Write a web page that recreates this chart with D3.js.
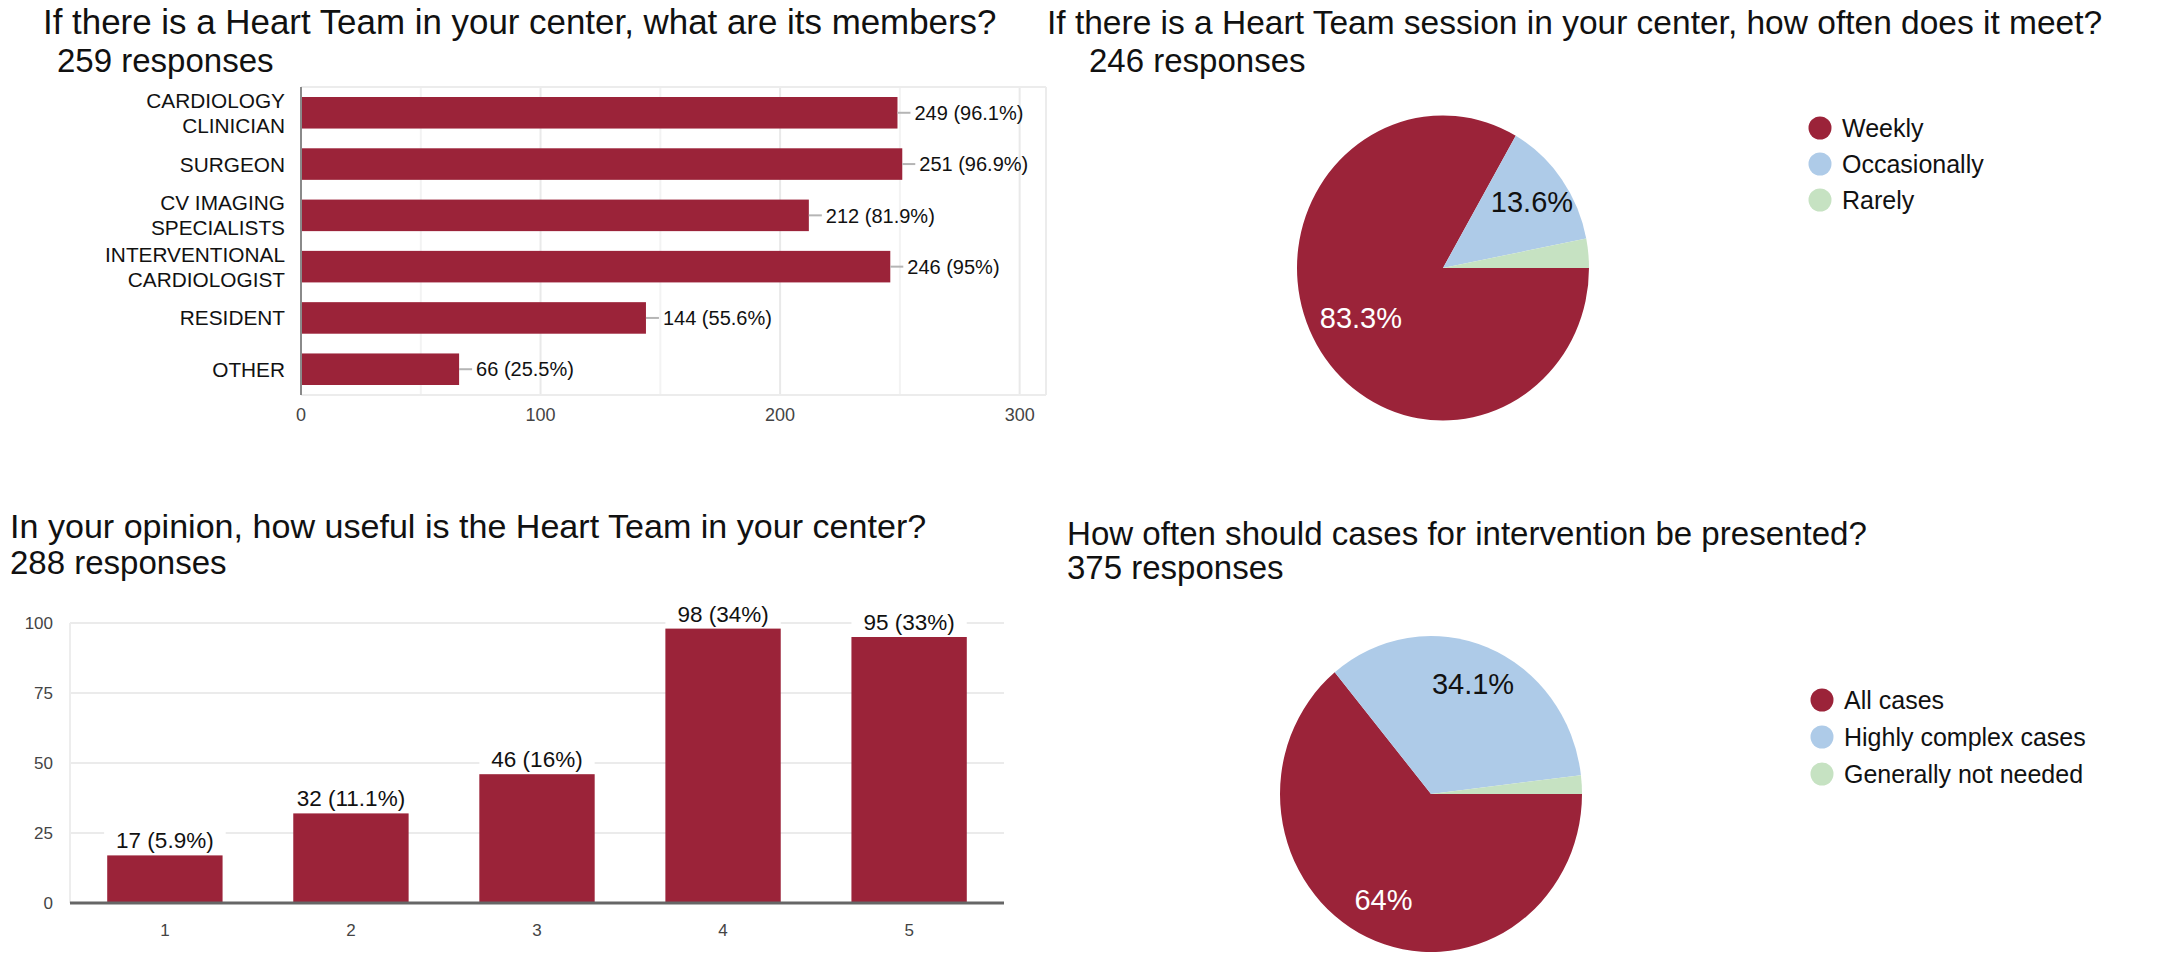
<!DOCTYPE html>
<html>
<head>
<meta charset="utf-8">
<script src="https://cdnjs.cloudflare.com/ajax/libs/d3/7.8.5/d3.min.js"></script>
<style>
  html, body { margin: 0; padding: 0; background: #fff; }
  svg { display: block; font-family: "Liberation Sans", Arial, Helvetica, sans-serif; }
</style>
</head>
<body>
<svg id="chart" width="2184" height="959"></svg>
<script>
// ---------- DATA ----------
const membersTitle = "If there is a Heart Team in your center, what are its members?";
const membersResponses = "259 responses";
const membersCategories = ["CARDIOLOGY|CLINICIAN", "SURGEON", "CV IMAGING|SPECIALISTS", "INTERVENTIONAL|CARDIOLOGIST", "RESIDENT", "OTHER"];
const membersValues = [249, 251, 212, 246, 144, 66];
const membersPercents = ["96.1%", "96.9%", "81.9%", "95%", "55.6%", "25.5%"];
const membersTicks = [0, 100, 200, 300];

const meetTitle = "If there is a Heart Team session in your center, how often does it meet?";
const meetResponses = "246 responses";
const meetLabels = ["Weekly", "Occasionally", "Rarely"];
const meetValues = [83.3, 13.6, 3.1];

const usefulTitle = "In your opinion, how useful is the Heart Team in your center?";
const usefulResponses = "288 responses";
const usefulCategories = ["1", "2", "3", "4", "5"];
const usefulValues = [17, 32, 46, 98, 95];
const usefulPercents = ["5.9%", "11.1%", "16%", "34%", "33%"];
const usefulTicks = [0, 25, 50, 75, 100];

const presentTitle = "How often should cases for intervention be presented?";
const presentResponses = "375 responses";
const presentLabels = ["All cases", "Highly complex cases", "Generally not needed"];
const presentValues = [64, 34.1, 1.9];

const sliceColors = ["#9b2339", "#aecbe8", "#c6e2c2"];
const barColor = "#9b2339";

// ---------- DRAW ----------
const svg = d3.select("#chart");

function title(x, y1, y2, t, r, fs) {
  svg.append("text").attr("x", x).attr("y", y1).attr("font-size", fs).attr("fill", "#111").text(t);
  svg.append("text").attr("x", r.x).attr("y", y2).attr("font-size", 33).attr("fill", "#111").text(r.t);
}

// Chart 1: horizontal bars
(function () {
  title(43, 34, 72, membersTitle, { x: 57, t: membersResponses }, 34.9);
  const left = 301, right = 1046, top = 87, bottom = 395;
  const x = d3.scaleLinear().domain([0, 311]).range([left, right]);
  const y = d3.scaleBand().domain(membersCategories).range([top, bottom]).paddingInner(0.385).paddingOuter(0.195);
  const g = svg.append("g");
  const minor = [50, 150, 250];
  g.selectAll(".minor").data(minor).join("line")
    .attr("x1", d => x(d)).attr("x2", d => x(d)).attr("y1", top).attr("y2", bottom)
    .attr("stroke", "#f3f3f3").attr("stroke-width", 2);
  g.selectAll(".major").data(membersTicks.slice(1)).join("line")
    .attr("x1", d => x(d)).attr("x2", d => x(d)).attr("y1", top).attr("y2", bottom)
    .attr("stroke", "#e9e9e9").attr("stroke-width", 2);
  g.append("line").attr("x1", left).attr("x2", right).attr("y1", top).attr("y2", top).attr("stroke", "#ececec").attr("stroke-width", 2);
  g.append("line").attr("x1", left).attr("x2", right).attr("y1", bottom).attr("y2", bottom).attr("stroke", "#ececec").attr("stroke-width", 2);
  g.append("line").attr("x1", right).attr("x2", right).attr("y1", top).attr("y2", bottom).attr("stroke", "#ececec").attr("stroke-width", 2);
  g.selectAll(".bar").data(membersValues).join("rect")
    .attr("x", x(0)).attr("y", (d, i) => y(membersCategories[i]))
    .attr("width", d => x(d) - x(0)).attr("height", y.bandwidth()).attr("fill", barColor);
  g.selectAll(".lead").data(membersValues).join("line")
    .attr("x1", d => x(d)).attr("x2", d => x(d) + 13)
    .attr("y1", (d, i) => y(membersCategories[i]) + y.bandwidth() / 2)
    .attr("y2", (d, i) => y(membersCategories[i]) + y.bandwidth() / 2)
    .attr("stroke", "#b5b5b5").attr("stroke-width", 2);
  g.selectAll(".vl").data(membersValues).join("text")
    .attr("x", d => x(d) + 17)
    .attr("y", (d, i) => y(membersCategories[i]) + y.bandwidth() / 2)
    .attr("dy", "0.36em").attr("font-size", 20).attr("fill", "#111")
    .text((d, i) => `${d} (${membersPercents[i]})`);
  g.append("line").attr("x1", left).attr("x2", left).attr("y1", top).attr("y2", bottom).attr("stroke", "#8a8a8a").attr("stroke-width", 2);
  membersCategories.forEach(c => {
    const lines = c.split("|");
    const cy = y(c) + y.bandwidth() / 2;
    const t = g.append("text").attr("text-anchor", "end").attr("font-size", 20.8).attr("fill", "#111");
    lines.forEach((l, j) => {
      t.append("tspan").attr("x", left - 16)
        .attr("y", cy + (j - (lines.length - 1) / 2) * 25).attr("dy", "0.36em").text(l);
    });
  });
  g.selectAll(".xt").data(membersTicks).join("text")
    .attr("x", d => x(d)).attr("y", 415).attr("dy", "0.36em").attr("text-anchor", "middle")
    .attr("font-size", 18).attr("fill", "#444").text(d => d);
})();

// Pie helper
function pieChart(labels, values, cx, cy, rx, ry, labelK, legendX, legendY, legendStep) {
  const pie = d3.pie().sort(null).startAngle(Math.PI / 2).endAngle(Math.PI / 2 + 2 * Math.PI);
  const arcs = pie(values);
  const arc = d3.arc().innerRadius(0).outerRadius(rx);
  const g = svg.append("g").attr("transform", `translate(${cx},${cy}) scale(1,${ry / rx})`);
  g.selectAll("path").data(arcs).join("path").attr("d", arc).attr("fill", (d, i) => sliceColors[i]);
  const lg = svg.append("g").attr("transform", `translate(${cx},${cy})`);
  lg.selectAll("text").data(arcs.filter(d => d.data >= 5)).join("text")
    .attr("x", d => { const a = (d.startAngle + d.endAngle) / 2; return Math.sin(a) * rx * labelK[d.index]; })
    .attr("y", d => { const a = (d.startAngle + d.endAngle) / 2; return -Math.cos(a) * ry * labelK[d.index]; })
    .attr("dy", "0.36em").attr("text-anchor", "middle").attr("font-size", 29)
    .attr("fill", d => d.index === 0 ? "#fff" : "#111")
    .text(d => d.data + "%");
  const leg = svg.append("g");
  labels.forEach((l, i) => {
    leg.append("circle").attr("cx", legendX).attr("cy", legendY + i * legendStep).attr("r", 11.5).attr("fill", sliceColors[i]);
    leg.append("text").attr("x", legendX + 22).attr("y", legendY + i * legendStep).attr("dy", "0.36em")
      .attr("font-size", 25).attr("fill", "#111").text(l);
  });
}

// Chart 2
title(1047, 34, 72, meetTitle, { x: 1089, t: meetResponses }, 33.5);
pieChart(meetLabels, meetValues, 1443, 268, 146, 152.5, [0.65, 0.75, 0.7], 1820, 128, 36);

// Chart 3: vertical bars
(function () {
  title(10, 538, 574, usefulTitle, { x: 10, t: usefulResponses }, 34.1);
  const left = 70, right = 1004, top = 623, bottom = 903;
  const x = d3.scaleBand().domain(usefulCategories).range([left, right]).paddingInner(0.38).paddingOuter(0.2);
  const y = d3.scaleLinear().domain([0, 100]).range([bottom, top]);
  const g = svg.append("g");
  g.selectAll(".grid").data(usefulTicks.slice(1)).join("line")
    .attr("x1", left).attr("x2", right).attr("y1", d => y(d)).attr("y2", d => y(d))
    .attr("stroke", "#ebebeb").attr("stroke-width", 2);
  g.append("line").attr("x1", left).attr("x2", left).attr("y1", top).attr("y2", bottom).attr("stroke", "#ededed").attr("stroke-width", 2);
  g.selectAll(".bar").data(usefulValues).join("rect")
    .attr("x", (d, i) => x(usefulCategories[i])).attr("y", d => y(d))
    .attr("width", x.bandwidth()).attr("height", d => y(0) - y(d)).attr("fill", barColor);
  g.append("line").attr("x1", left).attr("x2", right).attr("y1", y(0)).attr("y2", y(0)).attr("stroke", "#666").attr("stroke-width", 3);
  usefulValues.forEach((v, i) => {
    const cx = x(usefulCategories[i]) + x.bandwidth() / 2;
    const t = g.append("text").attr("x", cx).attr("y", y(v) - 7).attr("text-anchor", "middle")
      .attr("font-size", 22.5).attr("fill", "#111").text(`${v} (${usefulPercents[i]})`);
    const bb = t.node().getBBox();
    g.insert("rect", () => t.node()).attr("x", bb.x - 12).attr("y", bb.y - 2).attr("width", bb.width + 24)
      .attr("height", bb.height + 1).attr("fill", "#fff");
  });
  g.selectAll(".yt").data(usefulTicks).join("text")
    .attr("x", 53).attr("y", d => y(d)).attr("dy", "0.36em").attr("text-anchor", "end")
    .attr("font-size", 17).attr("fill", "#444").text(d => d);
  g.selectAll(".xt").data(usefulCategories).join("text")
    .attr("x", d => x(d) + x.bandwidth() / 2).attr("y", 930).attr("dy", "0.36em").attr("text-anchor", "middle")
    .attr("font-size", 17).attr("fill", "#444").text(d => d);
})();

// Chart 4
title(1067, 545, 579, presentTitle, { x: 1067, t: presentResponses }, 33.1);
pieChart(presentLabels, presentValues, 1431, 794, 151, 158, [0.74, 0.75, 0.7], 1822, 700, 37);
</script>
</body>
</html>
